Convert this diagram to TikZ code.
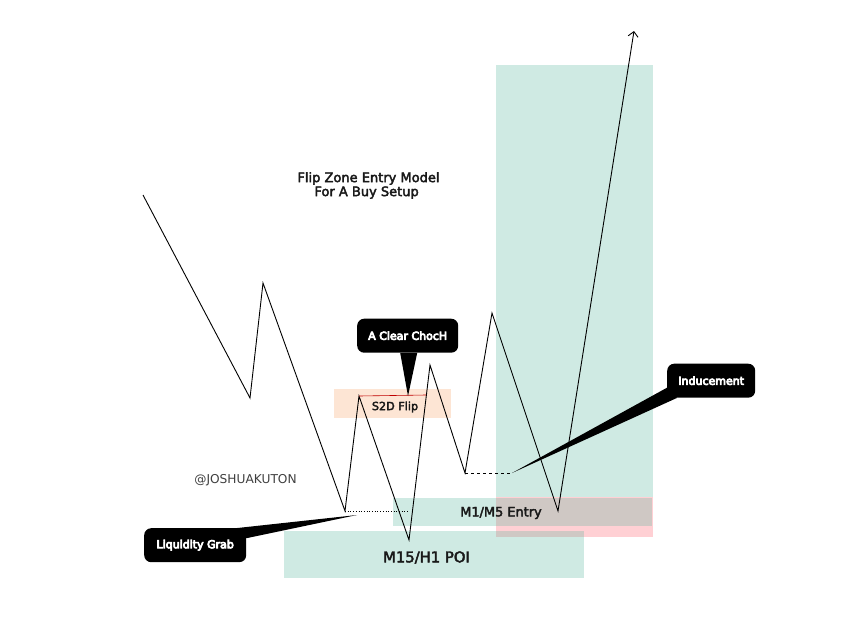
\documentclass[tikz,border=0pt]{standalone}
\usepackage{fontspec}
\setmainfont{DejaVu Sans}
\newfontfamily\heavyfont[FakeBold=7]{DejaVu Sans}
\newfontfamily\mediumfont[FakeBold=3]{DejaVu Sans}
\usepackage{xcolor}
\usetikzlibrary{calc,arrows.meta}
\definecolor{zoneteal}{RGB}{84,180,158}
\definecolor{zonepink}{RGB}{255,208,212}
\definecolor{zoneorange}{RGB}{253,229,212}
\begin{document}
\begin{tikzpicture}[x=1pt,y=-1pt,
  zone/.style={fill=zoneteal,fill opacity=0.28,draw=none},
  callout/.style={fill=black,text=white,rounded corners=7pt,font=\fontsize{11}{13}\heavyfont,inner sep=0pt,anchor=north west},
  label/.style={font=\fontsize{13}{14}\mediumfont,text=black!90}]
  \useasboundingbox (0,0) rectangle (859,640);
  \fill[white] (0,0) rectangle (859,640);
  \fill[zonepink] (496,497) rectangle (653,537);
  \fill[zoneorange] (334,389) rectangle (451,418);
  \fill[zone] (496,65) rectangle (653,497);
  \fill[zone] (393,498) rectangle (652,526);
  \fill[zone] (284,531) rectangle (584,578);
  \coordinate (p1) at (143,195);
  \coordinate (p2) at (250,398);
  \coordinate (p3) at (263,283);
  \coordinate (p4) at (345,511);
  \coordinate (p5) at (359,396);
  \coordinate (p6) at (409,540);
  \coordinate (p7) at (430,365);
  \coordinate (p8) at (465,473);
  \coordinate (p9) at (492,313);
  \coordinate (p10) at (558,511);
  \coordinate (p11) at (634,31);
  \coordinate (grabend) at (409,511);
  \coordinate (flipend) at (426,395);
  \coordinate (indend) at (512,473);
  \coordinate (grabtip) at (357,515);
  \coordinate (chochtip) at (408,396);
  \draw[black,line width=0.9pt,-{Straight Barb[length=5pt,width=10pt]}] (p1) -- (p2) -- (p3) -- (p4) -- (p5) -- (p6) -- (p7) -- (p8) -- (p9) -- (p10) -- (p11);
  \draw[black,dotted,line width=0.7pt] (p4) -- (grabend);
  \draw[red!75!black,line width=0.6pt] (p5) -- (flipend);
  \draw[black,dashed,line width=0.8pt] (p8) -- (indend);
  \node[label,align=left] (title) at (368.5,185.5) {Flip Zone Entry Model\\\hspace*{17pt}For A Buy Setup};
  \node[label,font=\fontsize{12.2}{14}\selectfont,text=black!75] (handle) at (245.5,480.5) {@JOSHUAKUTON};
  \node[label,font=\fontsize{11.2}{13}\mediumfont] (flip) at (395,407) {S2D Flip};
  \node[label,font=\fontsize{12.9}{15}\mediumfont] (entry) at (501,513) {M1/M5 Entry};
  \node[label,font=\fontsize{14.8}{17}\mediumfont] (poi) at (426.5,557.5) {M15/H1 POI};
  \node[callout,minimum width=102pt,minimum height=34pt] (grab) at (144,528) {Liquidity Grab};
  \node[callout,minimum width=101pt,minimum height=34pt] (choch) at (357,318.5) {A Clear ChocH};
  \node[callout,minimum width=88pt,minimum height=34pt] (ind) at (667,363.5) {Inducement};
  \fill[black] ($(grab.north east)+(-9,0)$) -- (grabtip) -- ($(grab.east)+(0,-7)$) -- cycle;
  \fill[black] ($(choch.south)+(-7.5,0)$) -- (chochtip) -- ($(choch.south)+(9.5,0)$) -- cycle;
  \fill[black] ($(ind.west)+(0,7)$) -- (indend) -- ($(ind.south west)+(10,0)$) -- cycle;
\end{tikzpicture}
\end{document}
